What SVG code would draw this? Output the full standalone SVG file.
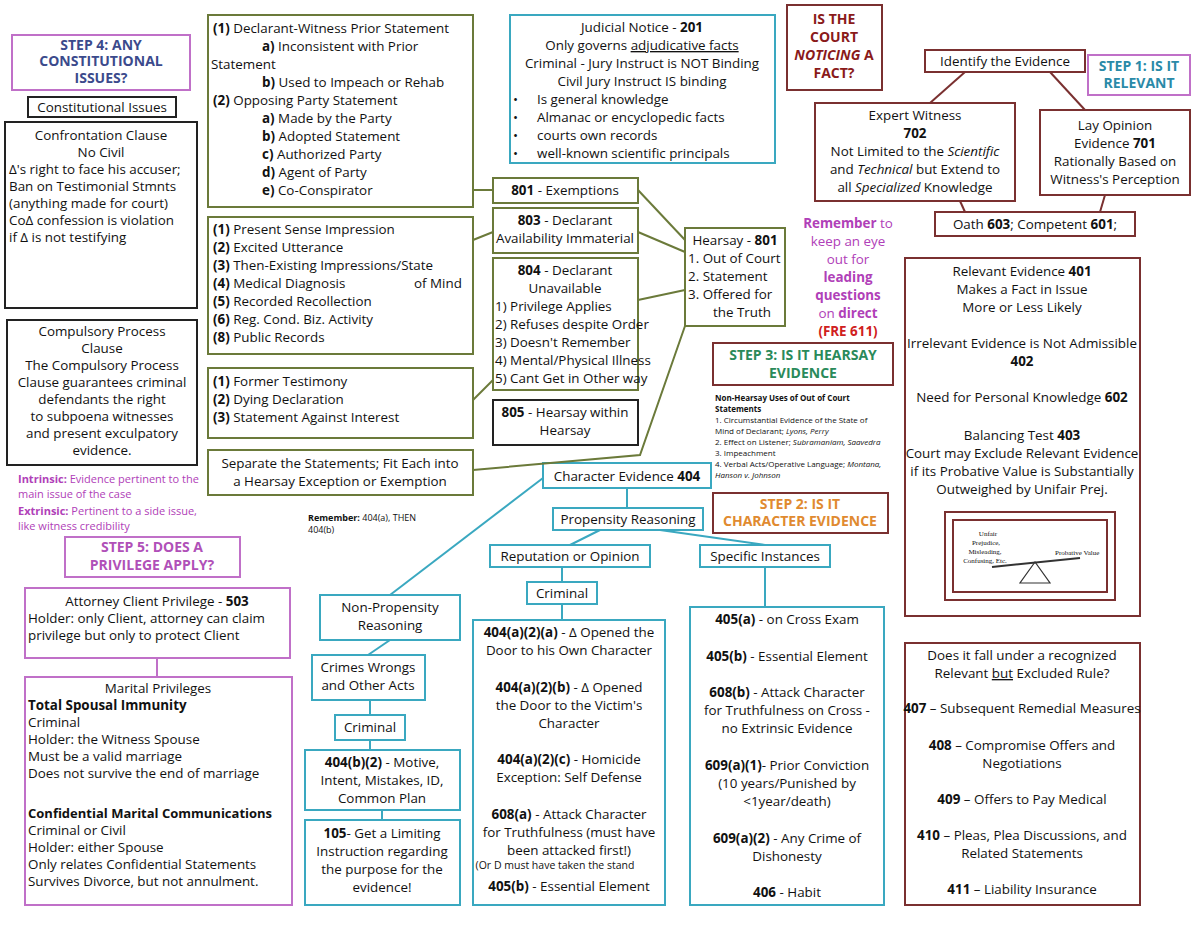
<svg xmlns="http://www.w3.org/2000/svg" width="1200" height="927" viewBox="0 0 1200 927">
<style>
text{font-family:"Open Sans","Liberation Sans",sans-serif;font-size:13.4px;fill:#111}
.c{text-anchor:middle}
.b{font-weight:bold}
.i{font-style:italic}
.st{font-weight:bold;font-size:14px}
rect{fill:#fff;stroke-width:2}
.pu{stroke:#c070c8}
.bk{stroke:#222}
.ol{stroke:#6b7a3a}
.te{stroke:#3aa8c0}
.br{stroke:#7a3030}
.sm{font-size:8px}
.pt{fill:#b040b8;font-size:11px}
line,polyline{stroke-width:2;fill:none}
</style>
<rect width="1200" height="927" fill="#fff" stroke="none"/>

<g id="step4"><rect class="pu" x="12" y="35" width="178" height="55"/>
<text class="c st" x="101" y="50" style="fill:#3b4a8c">STEP 4: ANY</text>
<text class="c st" x="101" y="66" style="fill:#3b4a8c">CONSTITUTIONAL</text>
<text class="c st" x="101" y="83" style="fill:#3b4a8c">ISSUES?</text></g>
<g id="constIssues"><rect class="bk" x="28" y="97" width="148" height="20"/><text class="c" x="102" y="112">Constitutional Issues</text></g>
<g id="confrontation"><rect class="bk" x="5" y="122" width="192" height="186"/>
<text class="c" x="101" y="140">Confrontation Clause</text>
<text class="c" x="101" y="157">No Civil</text>
<text x="9" y="174">Δ's right to face his accuser;</text>
<text x="9" y="191">Ban on Testimonial Stmnts</text>
<text x="9" y="208">(anything made for court)</text>
<text x="9" y="225">CoΔ confession is violation</text>
<text x="9" y="242">if Δ is not testifying</text></g>
<g id="compulsory"><rect class="bk" x="7" y="320" width="190" height="145"/>
<text class="c" x="102" y="336">Compulsory Process</text>
<text class="c" x="102" y="353">Clause</text>
<text class="c" x="102" y="370">The Compulsory Process</text>
<text class="c" x="102" y="387">Clause guarantees criminal</text>
<text class="c" x="102" y="404">defendants the right</text>
<text class="c" x="102" y="421">to subpoena witnesses</text>
<text class="c" x="102" y="438">and present exculpatory</text>
<text class="c" x="102" y="455">evidence.</text></g>
<g id="intrinsic">
<text class="pt" x="18" y="483"><tspan font-weight="bold">Intrinsic:</tspan> Evidence pertinent to the</text>
<text class="pt" x="18" y="498">main issue of the case</text>
<text class="pt" x="18" y="515"><tspan font-weight="bold">Extrinsic:</tspan> Pertinent to a side issue,</text>
<text class="pt" x="18" y="530">like witness credibility</text></g>
<g id="step5"><rect class="pu" x="65" y="537" width="175" height="40"/>
<text class="c st" x="152" y="552" style="fill:#b050b8">STEP 5: DOES A</text>
<text class="c st" x="152" y="570" style="fill:#b050b8">PRIVILEGE APPLY?</text></g>
<g id="attorney"><rect class="pu" x="25" y="588" width="265" height="70"/>
<text class="c" x="157" y="606">Attorney Client Privilege - <tspan font-weight="bold">503</tspan></text>
<text x="28" y="623">Holder: only Client, attorney can claim</text>
<text x="28" y="640">privilege but only to protect Client</text></g>
<g id="marital"><rect class="pu" x="25" y="677" width="267" height="228"/>
<text class="c" x="158" y="693">Marital Privileges</text>
<text class="b" x="28" y="710">Total Spousal Immunity</text>
<text x="28" y="727">Criminal</text>
<text x="28" y="744">Holder: the Witness Spouse</text>
<text x="28" y="761">Must be a valid marriage</text>
<text x="28" y="778">Does not survive the end of marriage</text>
<text class="b" x="28" y="818" style="font-size:13px">Confidential Marital Communications</text>
<text x="28" y="835">Criminal or Civil</text>
<text x="28" y="852">Holder: either Spouse</text>
<text x="28" y="869">Only relates Confidential Statements</text>
<text x="28" y="886">Survives Divorce, but not annulment.</text></g>

<g id="exemptionsList"><rect class="ol" x="208" y="15" width="265" height="192"/>
<text x="213" y="33"><tspan font-weight="bold">(1)</tspan> Declarant-Witness Prior Statement</text>
<text x="262" y="51"><tspan font-weight="bold">a)</tspan> Inconsistent with Prior</text>
<text x="211" y="69">Statement</text>
<text x="262" y="87"><tspan font-weight="bold">b)</tspan> Used to Impeach or Rehab</text>
<text x="213" y="105"><tspan font-weight="bold">(2)</tspan> Opposing Party Statement</text>
<text x="262" y="123"><tspan font-weight="bold">a)</tspan> Made by the Party</text>
<text x="262" y="141"><tspan font-weight="bold">b)</tspan> Adopted Statement</text>
<text x="262" y="159"><tspan font-weight="bold">c)</tspan> Authorized Party</text>
<text x="262" y="177"><tspan font-weight="bold">d)</tspan> Agent of Party</text>
<text x="262" y="195"><tspan font-weight="bold">e)</tspan> Co-Conspirator</text></g>
<g id="list803"><rect class="ol" x="208" y="217" width="265" height="137"/>
<text x="213" y="234"><tspan font-weight="bold">(1)</tspan> Present Sense Impression</text>
<text x="213" y="252"><tspan font-weight="bold">(2)</tspan> Excited Utterance</text>
<text x="213" y="270"><tspan font-weight="bold">(3)</tspan> Then-Existing Impressions/State</text>
<text x="213" y="288"><tspan font-weight="bold">(4)</tspan> Medical Diagnosis</text>
<text x="414" y="288">of Mind</text>
<text x="213" y="306"><tspan font-weight="bold">(5)</tspan> Recorded Recollection</text>
<text x="213" y="324"><tspan font-weight="bold">(6)</tspan> Reg. Cond. Biz. Activity</text>
<text x="213" y="342"><tspan font-weight="bold">(8)</tspan> Public Records</text></g>
<g id="list804"><rect class="ol" x="208" y="368" width="265" height="70"/>
<text x="213" y="386"><tspan font-weight="bold">(1)</tspan> Former Testimony</text>
<text x="213" y="404"><tspan font-weight="bold">(2)</tspan> Dying Declaration</text>
<text x="213" y="422"><tspan font-weight="bold">(3)</tspan> Statement Against Interest</text></g>
<g id="separate"><rect class="ol" x="208" y="450" width="265" height="45"/>
<text class="c" x="340" y="468">Separate the Statements; Fit Each into</text>
<text class="c" x="340" y="486">a Hearsay Exception or Exemption</text></g>

<g id="n801ex"><rect class="ol" x="493" y="178" width="145" height="25"/><text class="c" x="565" y="195"><tspan font-weight="bold">801</tspan> - Exemptions</text></g>
<g id="n803"><rect class="ol" x="493" y="208" width="145" height="45"/>
<text class="c" x="565" y="225"><tspan font-weight="bold">803</tspan> - Declarant</text>
<text class="c" x="565" y="243">Availability Immaterial</text></g>
<g id="n804"><rect class="ol" x="493" y="258" width="145" height="132"/>
<text class="c" x="565" y="275"><tspan font-weight="bold">804</tspan> - Declarant</text>
<text class="c" x="565" y="293">Unavailable</text>
<text x="495" y="311">1) Privilege Applies</text>
<text x="495" y="329">2) Refuses despite Order</text>
<text x="495" y="347">3) Doesn't Remember</text>
<text x="495" y="365">4) Mental/Physical Illness</text>
<text x="495" y="383">5) Cant Get in Other way</text></g>
<g id="n805"><rect class="bk" x="493" y="400" width="145" height="45"/>
<text class="c" x="565" y="417"><tspan font-weight="bold">805</tspan> - Hearsay within</text>
<text class="c" x="565" y="435">Hearsay</text></g>
<g id="hearsay801"><rect class="ol" x="685" y="228" width="100" height="98"/>
<text class="c" x="735" y="245">Hearsay - <tspan font-weight="bold">801</tspan></text>
<text x="688" y="263">1. Out of Court</text>
<text x="688" y="281">2. Statement</text>
<text x="688" y="299">3. Offered for</text>
<text class="c" x="742" y="317">the Truth</text></g>

<g id="judicial"><rect class="te" x="510" y="15" width="265" height="148"/>
<text class="c" x="642" y="32">Judicial Notice - <tspan font-weight="bold">201</tspan></text>
<text class="c" x="642" y="50">Only governs <tspan text-decoration="underline">adjudicative facts</tspan></text>
<text class="c" x="642" y="68">Criminal - Jury Instruct is NOT Binding</text>
<text class="c" x="642" y="86">Civil Jury Instruct IS binding</text>
<text x="513" y="104">•</text><text x="537" y="104">Is general knowledge</text>
<text x="513" y="122">•</text><text x="537" y="122">Almanac or encyclopedic facts</text>
<text x="513" y="140">•</text><text x="537" y="140">courts own records</text>
<text x="513" y="158">•</text><text x="537" y="158">well-known scientific principals</text></g>
<g id="noticing"><rect class="br" x="787" y="5" width="95" height="85"/>
<text class="c st" x="834" y="24" style="fill:#8a1a1a">IS THE</text>
<text class="c st" x="834" y="42" style="fill:#8a1a1a">COURT</text>
<text class="c st i" x="834" y="60" style="fill:#8a1a1a">NOTICING<tspan font-style="normal"> A</tspan></text>
<text class="c st" x="834" y="78" style="fill:#8a1a1a">FACT?</text></g>
<g id="identify"><rect class="br" x="925" y="50" width="160" height="22"/><text class="c" x="1005" y="66">Identify the Evidence</text></g>
<g id="step1"><rect class="pu" x="1088" y="55" width="102" height="40"/>
<text class="c st" x="1139" y="71" style="fill:#2a8aa8">STEP 1: IS IT</text>
<text class="c st" x="1139" y="88" style="fill:#2a8aa8">RELEVANT</text></g>
<g id="expert"><rect class="br" x="815" y="103" width="200" height="98"/>
<text class="c" x="915" y="120">Expert Witness</text>
<text class="c b" x="915" y="138">702</text>
<text class="c" x="915" y="156">Not Limited to the <tspan font-style="italic">Scientific</tspan></text>
<text class="c" x="915" y="174">and <tspan font-style="italic">Technical</tspan> but Extend to</text>
<text class="c" x="915" y="192">all <tspan font-style="italic">Specialized</tspan> Knowledge</text></g>
<g id="lay"><rect class="br" x="1040" y="110" width="150" height="85"/>
<text class="c" x="1115" y="130">Lay Opinion</text>
<text class="c" x="1115" y="148">Evidence <tspan font-weight="bold">701</tspan></text>
<text class="c" x="1115" y="166">Rationally Based on</text>
<text class="c" x="1115" y="184">Witness's Perception</text></g>
<g id="oath"><rect class="br" x="935" y="212" width="200" height="24"/><text class="c" x="1035" y="229">Oath <tspan font-weight="bold">603</tspan>; Competent <tspan font-weight="bold">601</tspan>;</text></g>
<g id="relevant"><rect class="br" x="905" y="258" width="235" height="358"/>
<text class="c" x="1022" y="276">Relevant Evidence <tspan font-weight="bold">401</tspan></text>
<text class="c" x="1022" y="294">Makes a Fact in Issue</text>
<text class="c" x="1022" y="312">More or Less Likely</text>
<text class="c" x="1022" y="348">Irrelevant Evidence is Not Admissible</text>
<text class="c b" x="1022" y="366">402</text>
<text class="c" x="1022" y="402">Need for Personal Knowledge <tspan font-weight="bold">602</tspan></text>
<text class="c" x="1022" y="440">Balancing Test <tspan font-weight="bold">403</tspan></text>
<text class="c" x="1022" y="458">Court may Exclude Relevant Evidence</text>
<text class="c" x="1022" y="476">if its Probative Value is Substantially</text>
<text class="c" x="1022" y="494">Outweighed by Unifair Prej.</text>
<rect class="br" x="945" y="512" width="170" height="88" stroke-width="1.5"/>
<rect class="br" x="953" y="520" width="154" height="72" stroke-width="1.5"/>
<text class="c" x="988" y="536" style="font-family:'Liberation Serif',serif;font-size:7px">Unfair</text>
<text class="c" x="986" y="545" style="font-family:'Liberation Serif',serif;font-size:7px">Prejudice,</text>
<text class="c" x="985" y="554" style="font-family:'Liberation Serif',serif;font-size:7px">Misleading,</text>
<text class="c" x="985" y="563" style="font-family:'Liberation Serif',serif;font-size:7px">Confusing, Etc.</text>
<text x="1055" y="555" style="font-family:'Liberation Serif',serif;font-size:7px">Probative Value</text>
<line x1="992" y1="567" x2="1080" y2="558" stroke="#333" stroke-width="1.2"/>
<polygon points="1035,562 1020,583 1050,583" fill="none" stroke="#333" stroke-width="1.2"/></g>
<g id="excluded"><rect class="br" x="905" y="643" width="235" height="262"/>
<text class="c" x="1022" y="660">Does  it fall under a recognized</text>
<text class="c" x="1022" y="678">Relevant <tspan text-decoration="underline">but</tspan> Excluded Rule?</text>
<text class="c" x="1022" y="713"><tspan font-weight="bold">407</tspan> – Subsequent Remedial Measures</text>
<text class="c" x="1022" y="750"><tspan font-weight="bold">408</tspan> – Compromise Offers and</text>
<text class="c" x="1022" y="768">Negotiations</text>
<text class="c" x="1022" y="804"><tspan font-weight="bold">409</tspan> – Offers to Pay Medical</text>
<text class="c" x="1022" y="840"><tspan font-weight="bold">410</tspan> – Pleas, Plea Discussions, and</text>
<text class="c" x="1022" y="858">Related Statements</text>
<text class="c" x="1022" y="894"><tspan font-weight="bold">411</tspan> – Liability Insurance</text></g>

<g id="rememberLeading">
<text class="c" x="848" y="228" style="fill:#b040b8"><tspan font-weight="bold">Remember</tspan> to</text>
<text class="c" x="848" y="246" style="fill:#b040b8">keep an eye</text>
<text class="c" x="848" y="264" style="fill:#b040b8">out for</text>
<text class="c b" x="848" y="282" style="fill:#b040b8">leading</text>
<text class="c b" x="848" y="300" style="fill:#b040b8">questions</text>
<text class="c" x="848" y="318" style="fill:#b040b8">on <tspan font-weight="bold">direct</tspan></text>
<text class="c b" x="848" y="336" style="fill:#d02020">(FRE 611)</text></g>
<g id="step3"><rect class="br" x="713" y="343" width="180" height="42"/>
<text class="c st" x="803" y="360" style="fill:#2a8a5a">STEP 3: IS IT HEARSAY</text>
<text class="c st" x="803" y="378" style="fill:#2a8a5a">EVIDENCE</text></g>
<g id="nonHearsay">
<text class="sm b" x="715" y="401">Non-Hearsay Uses of Out of Court</text>
<text class="sm b" x="715" y="412">Statements</text>
<text class="sm" x="715" y="423">1.  Circumstantial Evidence of the State of</text>
<text class="sm" x="715" y="434">Mind of Declarant; <tspan font-style="italic">Lyons, Perry</tspan></text>
<text class="sm" x="715" y="445">2. Effect on Listener; <tspan font-style="italic">Subramaniam, Saavedra</tspan></text>
<text class="sm" x="715" y="456">3. Impeachment</text>
<text class="sm" x="715" y="467">4. Verbal Acts/Operative Language; <tspan font-style="italic">Montana,</tspan></text>
<text class="sm i" x="715" y="478">Hanson v. Johnson</text></g>
<g id="step2"><rect class="br" x="713" y="493" width="175" height="40"/>
<text class="c st" x="800" y="509" style="fill:#e08a30">STEP 2: IS IT</text>
<text class="c st" x="800" y="526" style="fill:#e08a30">CHARACTER EVIDENCE</text></g>
<text x="308" y="521" style="font-size:9px"><tspan font-weight="bold">Remember:</tspan> 404(a), THEN</text>
<text x="308" y="533" style="font-size:9px">404(b)</text>

<g id="character"><rect class="te" x="543" y="463" width="168" height="25"/><text class="c" x="627" y="481">Character Evidence <tspan font-weight="bold">404</tspan></text></g>
<g id="propensity"><rect class="te" x="553" y="508" width="150" height="22"/><text class="c" x="628" y="524">Propensity Reasoning</text></g>
<g id="reputation"><rect class="te" x="490" y="545" width="160" height="22"/><text class="c" x="570" y="561">Reputation or Opinion</text></g>
<g id="specific"><rect class="te" x="700" y="545" width="130" height="22"/><text class="c" x="765" y="561">Specific Instances</text></g>
<g id="criminalA"><rect class="te" x="527" y="582" width="70" height="22"/><text class="c" x="562" y="598">Criminal</text></g>
<g id="box404a"><rect class="te" x="473" y="620" width="192" height="285"/>
<text class="c" x="569" y="637"><tspan font-weight="bold">404(a)(2)(a)</tspan> - Δ Opened the</text>
<text class="c" x="569" y="655">Door to his Own Character</text>
<text class="c" x="569" y="692"><tspan font-weight="bold">404(a)(2)(b)</tspan> - Δ Opened</text>
<text class="c" x="569" y="710">the Door to the Victim's</text>
<text class="c" x="569" y="728">Character</text>
<text class="c" x="569" y="764"><tspan font-weight="bold">404(a)(2)(c)</tspan> - Homicide</text>
<text class="c" x="569" y="782">Exception: Self Defense</text>
<text class="c" x="569" y="819"><tspan font-weight="bold">608(a)</tspan> - Attack Character</text>
<text class="c" x="569" y="837">for Truthfulness (must have</text>
<text class="c" x="569" y="855">been attacked first!)</text>
<text class="c" x="555" y="869" style="font-size:10.5px">(Or D must have taken the stand</text>
<text class="c" x="569" y="891"><tspan font-weight="bold">405(b)</tspan> - Essential Element</text></g>
<g id="box405"><rect class="te" x="690" y="607" width="194" height="298"/>
<text class="c" x="787" y="624"><tspan font-weight="bold">405(a)</tspan> - on Cross Exam</text>
<text class="c" x="787" y="661"><tspan font-weight="bold">405(b)</tspan> - Essential Element</text>
<text class="c" x="787" y="697"><tspan font-weight="bold">608(b)</tspan> - Attack Character</text>
<text class="c" x="787" y="715">for Truthfulness on Cross -</text>
<text class="c" x="787" y="733">no Extrinsic Evidence</text>
<text class="c" x="787" y="770"><tspan font-weight="bold">609(a)(1)</tspan>- Prior Conviction</text>
<text class="c" x="787" y="788">(10 years/Punished by</text>
<text class="c" x="787" y="806">&lt;1year/death)</text>
<text class="c" x="787" y="843"><tspan font-weight="bold">609(a)(2)</tspan> - Any Crime of</text>
<text class="c" x="787" y="861">Dishonesty</text>
<text class="c" x="787" y="897"><tspan font-weight="bold">406</tspan> - Habit</text></g>
<g id="nonProp"><rect class="te" x="320" y="595" width="140" height="45"/>
<text class="c" x="390" y="612">Non-Propensity</text><text class="c" x="390" y="630">Reasoning</text></g>
<g id="crimes"><rect class="te" x="312" y="655" width="113" height="45"/>
<text class="c" x="368" y="672">Crimes Wrongs</text><text class="c" x="368" y="690">and Other Acts</text></g>
<g id="criminalB"><rect class="te" x="335" y="715" width="70" height="25"/><text class="c" x="370" y="732">Criminal</text></g>
<g id="box404b"><rect class="te" x="305" y="750" width="155" height="60"/>
<text class="c" x="382" y="767"><tspan font-weight="bold">404(b)(2)</tspan> - Motive,</text>
<text class="c" x="382" y="785">Intent, Mistakes, ID,</text>
<text class="c" x="382" y="803">Common Plan</text></g>
<g id="box105"><rect class="te" x="305" y="820" width="155" height="85"/>
<text class="c" x="382" y="838"><tspan font-weight="bold">105</tspan>- Get a Limiting</text>
<text class="c" x="382" y="856">Instruction regarding</text>
<text class="c" x="382" y="874">the purpose for the</text>
<text class="c" x="382" y="892">evidence!</text></g>

<g id="connectors">
<line x1="157" y1="658" x2="157" y2="677" stroke="#c070c8"/>
<g stroke="#6b7a3a">
<line x1="473" y1="190" x2="493" y2="190"/>
<line x1="473" y1="240" x2="493" y2="232"/>
<line x1="473" y1="400" x2="493" y2="380"/>
<line x1="638" y1="190" x2="685" y2="240"/>
<line x1="638" y1="232" x2="685" y2="252"/>
<line x1="638" y1="300" x2="685" y2="290"/>
<polyline points="473,470 640,455 685,326"/>
</g>
<g stroke="#7a3030">
<line x1="965" y1="72" x2="930" y2="103"/>
<line x1="1050" y1="72" x2="1085" y2="110"/>
<line x1="960" y1="201" x2="965" y2="212"/>
<line x1="1105" y1="195" x2="1100" y2="212"/>
</g>
<g stroke="#3aa8c0">
<line x1="543" y1="478" x2="390" y2="595"/>
<line x1="627" y1="488" x2="627" y2="508"/>
<line x1="600" y1="530" x2="570" y2="545"/>
<line x1="660" y1="530" x2="765" y2="545"/>
<line x1="562" y1="567" x2="562" y2="582"/>
<line x1="562" y1="604" x2="562" y2="620"/>
<line x1="765" y1="567" x2="765" y2="607"/>
<line x1="390" y1="640" x2="368" y2="655"/>
<line x1="370" y1="700" x2="370" y2="715"/>
<line x1="370" y1="740" x2="370" y2="750"/>
<line x1="382" y1="810" x2="382" y2="820"/>
</g>
</g>
</svg>
